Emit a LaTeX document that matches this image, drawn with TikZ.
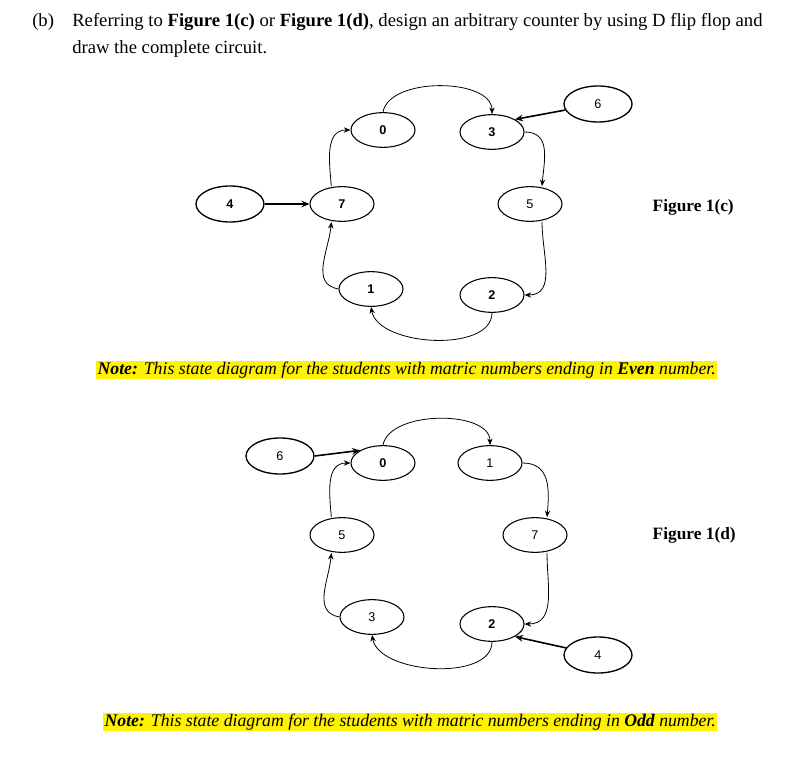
\documentclass[tikz,border=0pt]{standalone}
\usepackage{fontspec}
\setmainfont{Liberation Serif}
\newfontfamily\arialf{Liberation Sans}
\usetikzlibrary{shapes.geometric,arrows.meta}
\begin{document}
\begin{tikzpicture}[x=0.75pt,y=-0.75pt,
  st/.style={ellipse,draw,thick,minimum width=48pt,minimum height=26pt,inner sep=0pt,font=\arialf\fontsize{9.5}{10}\selectfont},
  stw/.style={st,minimum width=51pt,minimum height=27pt,line width=1pt},
  tr/.style={-{Stealth[length=5pt,width=4pt]},semithick},
  trk/.style={-{Stealth[length=6pt,width=5pt]},line width=1.2pt},
  txt/.style={anchor=west,font=\fontsize{14}{16}\selectfont,inner sep=0pt},
  note/.style={anchor=west,font=\itshape\fontsize{13.3}{15}\selectfont,fill=yellow,inner sep=1pt}]
\useasboundingbox (0,0) rectangle (812,762);
\node[txt] (b) at (32,22) {(b)};
\node[txt] (l1) at (72,22) {Referring to \textbf{Figure 1(c)} or \textbf{Figure 1(d)}, design an arbitrary counter by using D flip flop and};
\node[txt] (l2) at (72,49) {draw the complete circuit.};
% Figure 1(c)
\node[st] (c0) at (383,130) {\textbf{0}};
\node[st] (c3) at (492,132) {\textbf{3}};
\node[stw] (c6) at (598,104) {6};
\node[st] (c7) at (342,204) {\textbf{7}};
\node[stw] (c4) at (230,204) {\textbf{4}};
\node[st] (c5) at (530,204) {5};
\node[st] (c1) at (371,289) {\textbf{1}};
\node[st] (c2) at (492,295) {\textbf{2}};
\draw[tr] (c0.north) to[out=80,in=90,looseness=0.85] (c3.north);
\draw[tr] (c3.east) to[out=0,in=85,looseness=1.2] ([xshift=9pt]c5.north);
\draw[tr] ([xshift=9pt]c5.south) to[out=-90,in=0,looseness=1.1] (c2.east);
\draw[tr] (c2.south) to[out=-90,in=-80,looseness=0.85] (c1.south);
\draw[tr] (c1.west) to[out=170,in=-95,looseness=1.1] ([xshift=-8pt]c7.south);
\draw[tr] ([xshift=-8pt]c7.north) to[out=95,in=180,looseness=1.1] (c0.west);
\draw[trk] (c4) -- (c7);
\draw[trk] (c6) -- (c3.north east);
\node[anchor=west,font=\bfseries\fontsize{13}{15}\selectfont] (fc) at (648,207) {Figure 1(c)};
\node[note] (n1) at (96,370) {\textbf{Note:} This state diagram for the students with matric numbers ending in \textbf{Even} number.};
% Figure 1(d)
\node[st] (d0) at (383,463) {\textbf{0}};
\node[st] (d1) at (490,463) {1};
\node[stw] (d6) at (280,456) {6};
\node[st] (d5) at (342,535) {5};
\node[st] (d7) at (535,535) {7};
\node[st] (d3) at (372,617) {3};
\node[st] (d2) at (492,624) {\textbf{2}};
\node[stw] (d4) at (598,655) {4};
\draw[tr] (d0.north) to[out=80,in=90,looseness=0.85] (d1.north);
\draw[tr] (d1.east) to[out=0,in=85,looseness=1.2] ([xshift=9pt]d7.north);
\draw[tr] ([xshift=9pt]d7.south) to[out=-90,in=0,looseness=1.1] (d2.east);
\draw[tr] (d2.south) to[out=-90,in=-80,looseness=0.85] (d3.south);
\draw[tr] (d3.west) to[out=170,in=-95,looseness=1.1] ([xshift=-8pt]d5.south);
\draw[tr] ([xshift=-8pt]d5.north) to[out=95,in=180,looseness=1.1] (d0.west);
\draw[trk] (d6.east) -- (d0.north west);
\draw[trk] (d4) -- (d2.south east);
\node[anchor=west,font=\bfseries\fontsize{13}{15}\selectfont] (fd) at (648,535) {Figure 1(d)};
\node[note] (n2) at (103,722) {\textbf{Note:} This state diagram for the students with matric numbers ending in \textbf{Odd} number.};
\end{tikzpicture}
\end{document}
